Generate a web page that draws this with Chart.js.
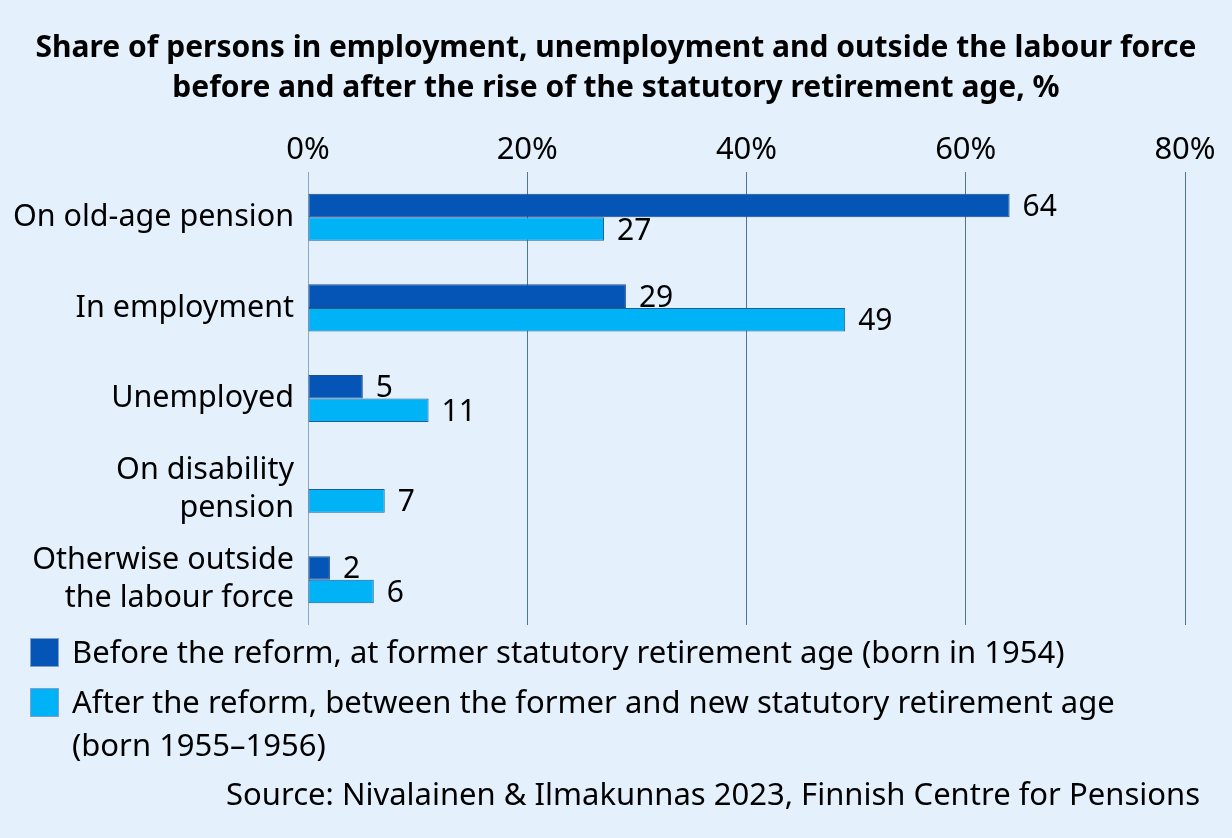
<!DOCTYPE html>
<html><head><meta charset="utf-8">
<script src="https://cdn.jsdelivr.net/npm/chart.js@4/dist/chart.umd.min.js"></script>
<style>
html,body{margin:0;padding:0;background:#E4F1FC;}
#wrap{position:relative;width:1232px;height:838px;overflow:hidden;background:#E4F1FC;font-family:"Noto Sans",sans-serif;color:#000;}
#title{position:absolute;left:0;top:26px;width:1232px;text-align:center;font-weight:bold;font-size:30px;line-height:40px;white-space:nowrap;}
canvas{position:absolute;left:0;top:0;}
.leg{position:absolute;left:30px;font-size:31px;line-height:43px;}
.sw{position:absolute;left:0;width:27px;height:27px;border:1px solid #7FA0C8;}
.lt{position:absolute;left:42px;white-space:nowrap;}
#source{position:absolute;right:32px;top:772px;font-size:31px;white-space:nowrap;}
</style></head>
<body><div id="wrap">
<canvas id="c" width="1232" height="838"></canvas>
<div id="title">Share of persons in employment, unemployment and outside the labour force<br>before and after the rise of the statutory retirement age, %</div>
<div class="leg" style="top:630px"><div class="sw" style="top:8px;background:#0455B5"></div><div class="lt">Before the reform, at former statutory retirement age (born in 1954)</div></div>
<div class="leg" style="top:680px"><div class="sw" style="top:8px;background:#00B3F6"></div><div class="lt">After the reform, between the former and new statutory retirement age<br>(born 1955–1956)</div></div>
<div id="source">Source: Nivalainen &amp; Ilmakunnas 2023, Finnish Centre for Pensions</div>
</div>
<script>
const categories = [["On old-age pension"], ["In employment"], ["Unemployed"], ["On disability", "pension"], ["Otherwise outside", "the labour force"]];
const beforeValues = [64, 29, 5, null, 2];
const afterValues = [27, 49, 11, 7, 6];
const seriesNames = ["Before the reform, at former statutory retirement age (born in 1954)", "After the reform, between the former and new statutory retirement age (born 1955–1956)"];
const xTicks = [0, 20, 40, 60, 80];

const FONT = '"Noto Sans", sans-serif';

const valueLabels = {
  id: 'valueLabels',
  afterDatasetsDraw(chart) {
    const ctx = chart.ctx;
    ctx.save();
    ctx.font = '30px ' + FONT;
    ctx.fillStyle = '#000';
    ctx.textAlign = 'left';
    ctx.textBaseline = 'middle';
    chart.data.datasets.forEach((ds, di) => {
      const meta = chart.getDatasetMeta(di);
      meta.data.forEach((bar, i) => {
        const v = ds.data[i];
        if (v === null || v === undefined) return;
        ctx.fillText(String(v), bar.x + 13, bar.y + 2);
      });
    });
    ctx.restore();
  }
};

new Chart(document.getElementById('c'), {
  type: 'bar',
  data: {
    labels: categories,
    datasets: [
      { label: seriesNames[0], data: beforeValues, backgroundColor: '#0455B5', borderColor: '#1F4E8C', borderWidth: 1, borderSkipped: false },
      { label: seriesNames[1], data: afterValues, backgroundColor: '#00B3F6', borderColor: '#1F5E9C', borderWidth: 1, borderSkipped: false }
    ]
  },
  options: {
    indexAxis: 'y',
    responsive: false,
    animation: false,
    maintainAspectRatio: false,
    datasets: { bar: { categoryPercentage: 0.52, barPercentage: 1.0 } },
    layout: { padding: { left: 0, right: 47, top: 120, bottom: 213 } },
    plugins: { legend: { display: false }, title: { display: false }, tooltip: { enabled: false } },
    scales: {
      x: {
        position: 'top',
        min: 0, max: 80,
        afterBuildTicks(axis) { axis.ticks = xTicks.map(v => ({ value: v })); },
        afterFit(axis) { axis.height = 52; },
        ticks: { callback: v => v + '%', font: { family: FONT, size: 31 }, color: '#000', padding: 3 },
        grid: { drawTicks: false, color: ctx => ctx.index === 0 ? '#8AA7C6' : '#4F749C', lineWidth: 1 },
        border: { display: false }
      },
      y: {
        afterFit(axis) { axis.width = 308; },
        ticks: { font: { family: FONT, size: 30.5, lineHeight: 1.25 }, color: '#000', padding: 14 },
        grid: { display: false, drawTicks: false },
        border: { display: false }
      }
    }
  },
  plugins: [valueLabels]
});
</script>
</body></html>
